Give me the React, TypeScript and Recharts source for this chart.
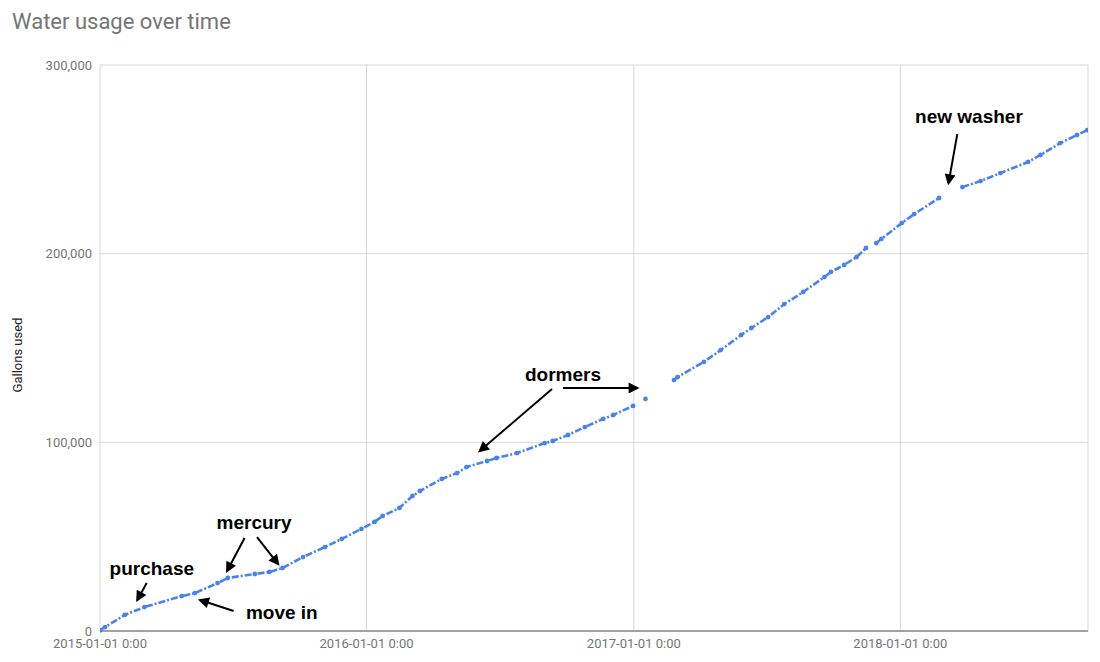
import React from 'react';
import {
  ComposedChart,
  Line,
  XAxis,
  YAxis,
  CartesianGrid,
  ReferenceLine,
  ReferenceDot,
} from 'recharts';

// ---- data ----
const dates: string[] = [
  '2015-01-01', '2015-01-08', '2015-02-04', '2015-03-03', '2015-04-23', '2015-05-11',
  '2015-06-11', '2015-06-25', '2015-08-01', '2015-08-21', '2015-09-08', '2015-10-06',
  '2015-11-05', '2015-11-28', '2015-12-25',
  '2016-01-12', '2016-01-23', '2016-02-15', '2016-03-04', '2016-03-14', '2016-04-13',
  '2016-05-04', '2016-05-17', '2016-06-14', '2016-06-27', '2016-07-25', '2016-09-01',
  '2016-09-12', '2016-10-03', '2016-10-26', '2016-11-20', '2016-12-04', '2016-12-31',
  '2017-01-08', '2017-01-17', '2017-02-05',
  '2017-02-25', '2017-03-02', '2017-04-07', '2017-04-30', '2017-05-28', '2017-06-11',
  '2017-07-04', '2017-07-26', '2017-08-21', '2017-09-19', '2017-09-28', '2017-10-16',
  '2017-11-02', '2017-11-15',
  '2017-11-22',
  '2017-11-29', '2017-12-06', '2018-01-03', '2018-01-20', '2018-02-23',
  '2018-03-10',
  '2018-03-27', '2018-04-21', '2018-05-18', '2018-06-25', '2018-07-12', '2018-08-08',
  '2018-08-31', '2018-09-14',
];

const gallons: (number | null)[] = [
  300, 2100, 8500, 12700, 18500, 20100,
  25400, 28100, 30200, 31300, 33400, 39200,
  44500, 48800, 54100,
  57800, 61000, 65200, 71600, 74200, 80600,
  83700, 86900, 90100, 91700, 94300, 99600,
  100700, 103900, 108100, 112400, 114500, 119300,
  null, 123000, null,
  133000, 134600, 142600, 148900, 156900, 160600,
  166400, 173300, 179700, 187600, 190300, 194000,
  198200, 203000,
  null,
  205600, 207800, 216200, 221000, 229500,
  null,
  235300, 238500, 242700, 248600, 252300, 258600,
  262900, 265500,
];

const xTickDates: string[] = ['2015-01-01', '2016-01-01', '2017-01-01', '2018-01-01'];
const xTickLabels: string[] = ['2015-01-01 0:00', '2016-01-01 0:00', '2017-01-01 0:00', '2018-01-01 0:00'];
const yTicks: number[] = [0, 100000, 200000, 300000];
const xDomain: string[] = ['2015-01-01', '2018-09-15'];

// annotation text (date, gallons) and arrows (from -> to)
const noteTexts: string[] = ['purchase', 'move in', 'mercury', 'dormers', 'new washer'];
const noteDates: string[] = ['2015-03-13', '2015-09-07', '2015-07-31', '2016-09-26', '2018-04-05'];
const noteValues: number[] = [33400, 10100, 57800, 136200, 273000];

const arrowFromDates: string[] = ['2015-03-06', '2015-07-03', '2015-07-18', '2015-08-04', '2016-09-11', '2016-09-26', '2018-03-20'];
const arrowFromValues: number[] = [25400, 10600, 49300, 49800, 128300, 128800, 263400];
const arrowToDates: string[] = ['2015-02-21', '2015-05-18', '2015-06-24', '2015-09-02', '2016-06-04', '2017-01-06', '2018-03-08'];
const arrowToValues: number[] = [16400, 16400, 31800, 35500, 95400, 128800, 237400];

// ---- helpers ----
const toTs = (s: string) => Date.UTC(+s.slice(0, 4), +s.slice(5, 7) - 1, +s.slice(8, 10));

const data = dates.map((d, i) => ({ t: toTs(d), g: gallons[i] }));
const xTicks = xTickDates.map(toTs);
const tickLabelFor = (v: number) => {
  const i = xTicks.indexOf(v);
  return i >= 0 ? xTickLabels[i] : '';
};

const BLUE = '#4a82ec';
const TICK_FONT = 'Roboto, Arial, sans-serif';
const NOTE_FONT = '"Liberation Sans", Arial, Helvetica, sans-serif';

export default function App() {
  return (
    <div style={{ position: 'absolute', left: 0, top: 0, width: 1100, height: 662, background: '#fff' }}>
      <svg width={1100} height={40} style={{ position: 'absolute', left: 0, top: 0 }}>
        <defs>
          <marker
            id="arrowhead"
            viewBox="0 0 10 10"
            refX="8"
            refY="5"
            markerWidth="6"
            markerHeight="5.5"
            orient="auto"
          >
            <path d="M0,0 L10,5 L0,10 z" fill="#000" />
          </marker>
        </defs>
        <text x={12} y={29} fontFamily={TICK_FONT} fontSize={22} fill="#757575">
          Water usage over time
        </text>
      </svg>
      <div style={{ position: 'absolute', left: 0, top: 0 }}>
        <ComposedChart
          width={1100}
          height={662}
          data={data}
          margin={{ top: 65, right: 12, left: 0, bottom: 0 }}
        >
          <CartesianGrid stroke="#d6d6d6" strokeWidth={1} />
          <XAxis
            dataKey="t"
            type="number"
            domain={xDomain.map(toTs)}
            ticks={xTicks}
            tickFormatter={tickLabelFor}
            allowDataOverflow
            axisLine={false}
            tickLine={false}
            height={31}
            interval={0}
            tick={{ fill: '#757575', fontSize: 13, fontFamily: TICK_FONT }}
          />
          <YAxis
            type="number"
            domain={[0, 300000]}
            ticks={yTicks}
            tickFormatter={(v: number) => v.toLocaleString('en-US')}
            axisLine={false}
            tickLine={false}
            width={100}
            tick={{ fill: '#757575', fontSize: 13, fontFamily: TICK_FONT }}
            label={{
              content: (p: any) => {
                const vb = p.viewBox || { x: 0, y: 65, width: 100, height: 566 };
                const cx = vb.x + 22;
                const cy = vb.y + vb.height / 2 + 7;
                return (
                  <text
                    x={cx}
                    y={cy}
                    transform={`rotate(-90 ${cx} ${cy})`}
                    textAnchor="middle"
                    fontFamily={TICK_FONT}
                    fontSize={13}
                    fill="#222"
                  >
                    Gallons used
                  </text>
                );
              },
            }}
          />
          <ReferenceLine y={0} stroke="#888" strokeWidth={1.6} />
          <Line
            type="linear"
            dataKey="g"
            stroke={BLUE}
            strokeWidth={2.6}
            strokeDasharray="7 2 2 2"
            dot={{ r: 2.4, fill: BLUE, stroke: 'none' }}
            activeDot={false}
            connectNulls={false}
            isAnimationActive={false}
          />
          {arrowFromDates.map((d, i) => (
            <ReferenceLine
              key={`a${i}`}
              segment={[
                { x: toTs(d), y: arrowFromValues[i] },
                { x: toTs(arrowToDates[i]), y: arrowToValues[i] },
              ]}
              stroke="#000"
              strokeWidth={2}
              markerEnd="url(#arrowhead)"
              ifOverflow="visible"
            />
          ))}
          {noteTexts.map((txt, i) => (
            <ReferenceDot
              key={`n${i}`}
              x={toTs(noteDates[i])}
              y={noteValues[i]}
              r={1}
              fill="none"
              stroke="none"
              ifOverflow="visible"
              label={{
                value: txt,
                position: 'center',
                fill: '#000',
                fontSize: 19,
                fontWeight: 'bold',
                fontFamily: NOTE_FONT,
              }}
            />
          ))}
        </ComposedChart>
      </div>
    </div>
  );
}
